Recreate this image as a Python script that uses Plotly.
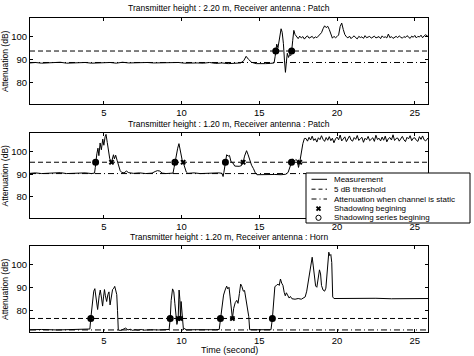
import plotly.graph_objects as go

W, H = 474, 356

# ---------------- data ----------------
tick_x = [5, 10, 15, 20, 25]
tick_y = [80, 90, 100]
x_range = [0.25, 25.85]
y_range = [70.7, 108.2]

titles = [
    "Transmitter height : 2.20 m, Receiver antenna : Patch",
    "Transmitter height : 1.20 m, Receiver antenna : Patch",
    "Transmitter height : 1.20 m, Receiver antenna : Horn",
]
threshold = [93.8, 95.3, 76.6]
static_level = [88.8, 90.3, 71.6]

meas_1 = [
    (0.25, 88.6), (0.6, 88.8), (1.0, 88.5), (1.4, 88.7), (1.8, 88.6), (2.2, 88.9), (2.6, 88.5),
    (3.0, 88.7), (3.4, 88.6), (3.8, 88.8), (4.2, 88.5), (4.6, 88.7), (5.0, 88.6), (5.4, 88.8),
    (5.8, 88.5), (6.2, 88.9), (6.6, 88.6), (7.0, 88.7), (7.4, 88.5), (7.8, 88.8), (8.2, 88.6),
    (8.6, 88.7), (9.0, 88.5), (9.4, 88.6), (9.8, 88.8), (10.2, 88.5), (10.6, 88.7), (11.0, 88.6),
    (11.4, 88.5), (11.8, 88.8), (12.2, 88.4), (12.6, 88.6), (13.0, 88.3), (13.4, 88.5), (13.8, 88.6),
    (14.0, 89.6), (14.15, 91.5), (14.3, 90.2), (14.5, 88.9), (14.8, 88.3), (15.1, 88.2), (15.4, 88.3),
    (15.7, 88.4), (15.95, 88.6), (16.02, 91.5), (16.06, 93.8), (16.12, 96.8), (16.2, 95.2),
    (16.3, 99.5), (16.4, 103.5), (16.47, 102.0), (16.55, 97.0), (16.62, 89.5), (16.68, 84.5),
    (16.74, 89.0), (16.8, 92.8), (16.88, 91.0), (16.95, 92.3), (17.02, 91.8), (17.08, 93.8),
    (17.15, 98.5), (17.22, 102.8), (17.3, 101.0), (17.4, 99.8), (17.5, 99.2), (17.6, 100.3),
    (17.7, 99.5), (17.8, 100.1), (17.9, 99.0), (18.0, 99.9), (18.1, 100.4), (18.2, 99.4),
    (18.3, 99.8), (18.4, 100.2), (18.5, 99.3), (18.6, 100.0), (18.7, 99.6), (18.8, 100.5),
    (18.9, 100.9), (19.0, 101.8), (19.1, 103.5), (19.2, 104.8), (19.3, 104.0), (19.4, 104.6),
    (19.5, 103.2), (19.6, 101.0), (19.7, 99.4), (19.8, 100.2), (19.9, 99.6), (20.0, 100.1),
    (20.1, 100.8), (20.2, 104.5), (20.3, 106.0), (20.4, 103.2), (20.5, 101.0), (20.6, 100.0),
    (20.7, 99.5), (20.8, 100.3), (20.9, 99.2), (21.0, 99.9), (21.1, 100.4), (21.2, 99.6),
    (21.3, 99.1), (21.4, 100.2), (21.5, 99.7), (21.6, 100.0), (21.7, 99.3), (21.8, 100.5),
    (21.9, 99.6), (22.0, 99.9), (22.1, 100.2), (22.2, 99.4), (22.3, 99.8), (22.4, 100.3),
    (22.5, 99.5), (22.6, 99.9), (22.7, 100.1), (22.8, 99.2), (22.9, 100.4), (23.0, 99.7),
    (23.1, 100.0), (23.2, 99.5), (23.3, 101.2), (23.4, 99.6), (23.5, 100.1), (23.6, 99.3),
    (23.7, 99.9), (23.8, 100.2), (23.9, 99.6), (24.0, 100.4), (24.1, 99.8), (24.2, 99.4),
    (24.3, 100.1), (24.4, 99.7), (24.5, 100.5), (24.6, 99.9), (24.7, 99.3), (24.8, 100.3),
    (24.9, 99.8), (25.0, 100.6), (25.1, 99.5), (25.2, 100.2), (25.3, 99.9), (25.4, 100.7),
    (25.5, 99.6), (25.6, 100.4), (25.7, 100.9), (25.85, 100.1),
]

meas_2 = [
    (0.25, 90.4), (0.6, 90.6), (1.0, 90.3), (1.4, 90.5), (1.8, 90.4), (2.2, 90.7), (2.6, 90.3),
    (3.0, 90.5), (3.4, 90.4), (3.8, 90.6), (4.2, 90.3), (4.4, 90.5), (4.45, 93.0), (4.47, 95.3),
    (4.55, 99.0), (4.62, 101.5), (4.68, 98.2), (4.76, 103.8), (4.84, 100.8), (4.93, 105.5),
    (5.0, 102.8), (5.08, 106.5), (5.14, 107.6), (5.22, 104.0), (5.3, 99.5), (5.38, 96.8),
    (5.49, 95.3), (5.55, 96.6), (5.62, 98.6), (5.68, 96.8), (5.76, 98.4), (5.85, 96.2),
    (5.95, 93.5), (6.05, 91.6), (6.15, 90.8), (6.3, 90.6), (6.45, 91.4), (6.6, 90.7), (6.9, 90.4),
    (7.3, 90.6), (7.7, 90.3), (8.1, 90.5), (8.3, 91.2), (8.45, 91.6), (8.6, 91.4), (8.75, 90.5),
    (9.0, 90.3), (9.3, 90.6), (9.45, 90.5), (9.52, 93.0), (9.57, 95.3), (9.65, 98.5), (9.75, 101.5),
    (9.83, 103.5), (9.9, 101.0), (9.97, 97.5), (10.03, 96.5), (10.1, 95.3), (10.18, 93.5),
    (10.3, 91.0), (10.4, 90.4), (10.8, 90.6), (11.2, 90.3), (11.6, 90.5), (12.0, 90.4), (12.4, 90.6),
    (12.6, 90.4), (12.67, 89.0), (12.72, 90.8), (12.82, 95.3), (12.9, 98.6), (13.0, 98.0),
    (13.08, 98.3), (13.18, 95.5), (13.3, 95.0), (13.42, 93.6), (13.55, 93.4), (13.7, 93.5),
    (13.85, 93.8), (13.96, 95.3), (14.05, 98.0), (14.18, 100.4), (14.28, 98.6), (14.4, 96.0),
    (14.5, 94.0), (14.62, 92.5), (14.75, 90.5), (14.85, 89.8), (15.2, 89.9), (15.6, 89.7),
    (16.0, 89.9), (16.4, 89.8), (16.7, 90.0), (16.85, 90.8), (16.95, 93.0), (17.07, 95.3),
    (17.15, 96.8), (17.25, 95.8), (17.35, 96.5), (17.45, 95.9), (17.52, 93.0), (17.6, 95.3),
    (17.7, 99.5), (17.8, 103.5), (17.9, 105.8),
    (18.0, 105.8), (18.1, 104.6), (18.2, 106.3), (18.3, 105.1), (18.4, 106.8), (18.5, 104.9),
    (18.6, 105.7), (18.7, 104.2), (18.8, 106.1), (18.9, 105.3), (19.0, 107.0), (19.1, 105.4),
    (19.2, 104.5), (19.3, 106.2), (19.4, 105.0), (19.5, 106.6), (19.6, 104.8), (19.7, 105.9),
    (19.8, 103.9), (19.9, 105.6), (20.0, 106.4), (20.1, 105.2), (20.2, 107.3), (20.3, 104.7),
    (20.4, 105.8), (20.5, 106.5), (20.6, 104.4), (20.7, 105.5), (20.8, 106.9), (20.9, 105.1),
    (21.0, 104.6), (21.1, 106.2), (21.2, 105.4), (21.3, 107.1), (21.4, 104.9), (21.5, 105.7),
    (21.6, 106.3), (21.7, 104.1), (21.8, 105.9), (21.9, 105.2), (22.0, 106.7), (22.1, 104.8),
    (22.2, 105.6), (22.3, 106.1), (22.4, 104.5), (22.5, 107.2), (22.6, 105.3), (22.7, 105.9),
    (22.8, 104.7), (22.9, 106.4), (23.0, 105.0), (23.1, 106.8), (23.2, 104.3), (23.3, 105.7),
    (23.4, 106.2), (23.5, 105.1), (23.6, 107.4), (23.7, 104.9), (23.8, 105.8), (23.9, 106.0),
    (24.0, 104.6), (24.1, 105.5), (24.2, 106.7), (24.3, 105.2), (24.4, 104.4), (24.5, 106.3),
    (24.6, 105.6), (24.7, 107.0), (24.8, 104.8), (24.9, 105.9), (25.0, 106.1), (25.1, 105.0),
    (25.2, 104.5), (25.3, 106.6), (25.4, 105.4), (25.5, 106.9), (25.6, 105.2), (25.7, 104.7),
    (25.85, 106.0),
]

meas_3 = [
    (0.25, 71.7), (1.0, 71.8), (2.0, 71.6), (3.0, 71.7), (4.0, 71.7), (4.1, 72.0), (4.16, 76.6),
    (4.25, 83.5), (4.35, 88.5), (4.42, 89.6), (4.5, 86.0), (4.6, 80.5), (4.7, 86.5), (4.77, 89.0),
    (4.85, 85.5), (4.92, 82.0), (4.98, 86.0), (5.04, 89.2), (5.1, 86.5), (5.18, 84.0), (5.26, 87.0),
    (5.33, 88.2), (5.4, 82.5), (5.48, 86.0), (5.56, 89.2), (5.64, 89.8), (5.7, 90.6), (5.76, 89.0),
    (5.83, 87.0), (5.88, 80.0), (5.93, 71.5), (6.1, 71.4), (6.25, 71.8), (6.4, 72.4), (6.55, 71.6),
    (6.7, 71.9), (6.85, 71.4), (7.0, 71.7), (7.2, 71.5), (7.4, 71.8), (7.6, 71.5), (8.0, 71.7),
    (8.5, 71.6), (9.0, 71.7), (9.2, 71.8), (9.27, 76.6), (9.33, 84.5), (9.42, 89.5), (9.5, 88.2),
    (9.57, 83.0), (9.63, 77.0), (9.7, 74.0), (9.78, 76.6), (9.84, 89.0), (9.89, 85.0), (9.93, 76.6),
    (9.97, 84.0), (10.02, 80.0), (10.08, 72.5), (10.12, 71.7), (10.2, 72.3), (10.28, 71.6),
    (10.8, 71.7), (11.5, 71.6), (12.2, 71.7), (12.42, 71.8), (12.5, 76.6), (12.6, 82.0),
    (12.7, 86.8), (12.8, 89.0), (12.9, 90.7), (12.97, 89.5), (13.05, 90.2), (13.12, 86.0),
    (13.2, 80.5), (13.27, 76.6), (13.35, 81.0), (13.45, 83.5), (13.55, 84.5), (13.63, 83.2),
    (13.72, 87.5), (13.8, 91.6), (13.88, 90.5), (13.97, 88.5), (14.05, 88.8), (14.15, 84.0),
    (14.25, 79.0), (14.32, 77.5), (14.38, 71.7), (14.8, 71.6), (15.3, 71.6), (15.75, 71.7),
    (15.84, 76.6), (15.92, 84.0), (16.0, 90.5), (16.1, 91.0), (16.2, 91.6), (16.28, 91.0),
    (16.36, 93.8), (16.44, 92.0), (16.52, 91.0), (16.6, 88.0), (16.67, 86.5), (16.74, 87.8),
    (16.82, 86.8), (16.92, 85.5), (17.0, 86.2), (17.1, 85.2), (17.3, 85.0), (17.5, 85.3),
    (17.7, 85.0), (17.85, 85.4), (17.95, 86.0), (18.05, 88.5), (18.15, 93.0), (18.25, 98.5),
    (18.35, 102.8), (18.4, 103.3), (18.47, 99.5), (18.55, 93.5), (18.62, 90.8), (18.7, 90.2),
    (18.78, 93.0), (18.87, 97.8), (18.94, 96.0), (19.0, 91.0), (19.1, 89.0), (19.2, 88.5),
    (19.28, 89.8), (19.35, 96.0), (19.42, 104.5), (19.47, 105.5), (19.53, 104.0), (19.6, 104.5),
    (19.66, 101.0), (19.72, 86.0), (19.8, 85.3), (20.5, 85.4), (21.5, 85.3), (22.5, 85.4),
    (23.5, 85.2), (24.5, 85.3), (25.85, 85.3),
]
measurements = [meas_1, meas_2, meas_3]

# shadowing beginnings (x marks) and series beginnings (circles), times in s
shadow_begin = [
    [16.06, 17.08],
    [4.47, 5.49, 9.57, 10.1, 12.82, 13.96, 17.07, 17.6],
    [4.16, 9.27, 9.78, 9.93, 12.5, 13.27, 15.84],
]
series_begin = [
    [16.06, 17.08],
    [4.47, 9.57, 12.82, 17.07],
    [4.16, 9.27, 12.5, 15.84],
]

legend_labels = [
    "Measurement",
    "5 dB threshold",
    "Attenuation when channel is static",
    "Shadowing begining",
    "Shadowing series begining",
]

# ---------------- layout helpers ----------------
def px_x(p):
    return p / W

def px_y(p):
    return 1 - p / H

FONT = "Liberation Sans, Arial, Helvetica, sans-serif"
plot_left, plot_right = 30, 428
panel_px = [(18, 104), (133, 218), (246, 332)]
title_y = [8.5, 123.5, 236.5]

fig = go.Figure()
layout = dict(
    width=W, height=H,
    margin=dict(l=0, r=0, t=0, b=0),
    paper_bgcolor="white", plot_bgcolor="white",
    showlegend=False,
    font=dict(family=FONT, color="black", size=9),
)
annotations = []
shapes = []

for i in range(3):
    n = i + 1
    xa = "x" if n == 1 else f"x{n}"
    ya = "y" if n == 1 else f"y{n}"
    t_vals = [p[0] for p in measurements[i]]
    a_vals = [p[1] for p in measurements[i]]

    fig.add_trace(go.Scatter(x=t_vals, y=a_vals, mode="lines",
                             line=dict(color="black", width=1), xaxis=xa, yaxis=ya))
    fig.add_trace(go.Scatter(x=x_range, y=[threshold[i]] * 2, mode="lines",
                             line=dict(color="black", width=1, dash="5px,3px"), xaxis=xa, yaxis=ya))
    fig.add_trace(go.Scatter(x=x_range, y=[static_level[i]] * 2, mode="lines",
                             line=dict(color="black", width=1, dash="6px,3px,1px,3px"), xaxis=xa, yaxis=ya))
    fig.add_trace(go.Scatter(x=series_begin[i], y=[threshold[i]] * len(series_begin[i]), mode="markers",
                             marker=dict(symbol="circle-open", size=5, color="black",
                                         line=dict(color="black", width=2)),
                             xaxis=xa, yaxis=ya))
    fig.add_trace(go.Scatter(x=shadow_begin[i], y=[threshold[i]] * len(shadow_begin[i]), mode="markers",
                             marker=dict(symbol="x", size=5, color="black", line=dict(width=0)),
                             xaxis=xa, yaxis=ya))

    top, bot = panel_px[i]
    axis_common = dict(showline=True, linecolor="black", linewidth=1, mirror="ticks",
                       ticks="inside", ticklen=3, tickcolor="black", tickwidth=1,
                       showgrid=False, zeroline=False,
                       tickfont=dict(family=FONT, size=9.5, color="black"))
    layout["xaxis" if n == 1 else f"xaxis{n}"] = dict(
        domain=[px_x(plot_left), px_x(plot_right)], range=x_range,
        tickvals=tick_x, anchor=ya, **axis_common)
    layout["yaxis" if n == 1 else f"yaxis{n}"] = dict(
        domain=[px_y(bot), px_y(top)], range=y_range,
        tickvals=tick_y, anchor=xa, **axis_common)

    annotations.append(dict(text=titles[i], x=px_x((plot_left + plot_right) / 2), y=px_y(title_y[i]),
                            xref="paper", yref="paper", showarrow=False,
                            xanchor="center", yanchor="middle",
                            font=dict(family=FONT, size=8.5, color="black")))
    annotations.append(dict(text="Attenuation (dB)", x=px_x(5), y=px_y((top + bot) / 2),
                            xref="paper", yref="paper", showarrow=False, textangle=-90,
                            xanchor="center", yanchor="middle",
                            font=dict(family=FONT, size=8.5, color="black")))

annotations.append(dict(text="Time (second)", x=px_x((plot_left + plot_right) / 2), y=px_y(350),
                        xref="paper", yref="paper", showarrow=False,
                        xanchor="center", yanchor="middle",
                        font=dict(family=FONT, size=9, color="black")))

# ---------------- manual legend ----------------
lg_left, lg_right, lg_top, lg_bot = 306, 470, 173, 223
shapes.append(dict(type="rect", xref="paper", yref="paper", layer="above",
                   x0=px_x(lg_left), x1=px_x(lg_right), y0=px_y(lg_bot), y1=px_y(lg_top),
                   fillcolor="white", line=dict(color="black", width=1)))
row_y = [179.3, 189.2, 199.0, 208.6, 217.8]
s0, s1, mk = 311.5, 327, 318.5
for j, dash in enumerate(["solid", "4px,3px", "5px,3px,1px,3px"]):
    shapes.append(dict(type="line", xref="paper", yref="paper", layer="above",
                       x0=px_x(s0), x1=px_x(s1), y0=px_y(row_y[j]), y1=px_y(row_y[j]),
                       line=dict(color="black", width=1, dash=dash)))
for d in (-1, 1):
    shapes.append(dict(type="line", xref="paper", yref="paper", layer="above",
                       x0=px_x(mk - 2), x1=px_x(mk + 2), y0=px_y(row_y[3] - 2 * d), y1=px_y(row_y[3] + 2 * d),
                       line=dict(color="black", width=2)))
shapes.append(dict(type="circle", xref="paper", yref="paper", layer="above",
                   x0=px_x(mk - 2.6), x1=px_x(mk + 2.6), y0=px_y(row_y[4] + 2.6), y1=px_y(row_y[4] - 2.6),
                   line=dict(color="black", width=1)))
for j, lab in enumerate(legend_labels):
    annotations.append(dict(text=lab, x=px_x(332), y=px_y(row_y[j]), xref="paper", yref="paper",
                            showarrow=False, xanchor="left", yanchor="middle",
                            font=dict(family=FONT, size=8, color="black")))

layout["annotations"] = annotations
layout["shapes"] = shapes
fig.update_layout(**layout)
fig.write_html("out.html", config={"displayModeBar": False},
               post_script="document.body.style.margin='0px';")
